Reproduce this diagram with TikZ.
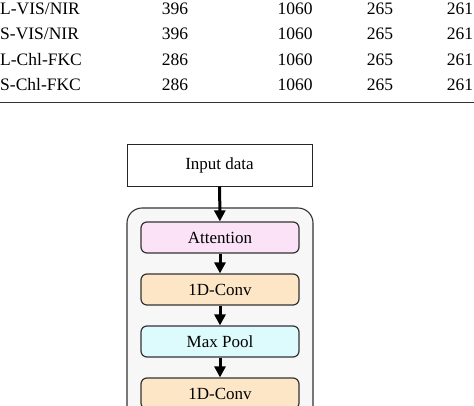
\documentclass[tikz,border=0pt]{standalone}
\usepackage{fontspec}
\setmainfont{Liberation Serif}
\usepackage{xcolor}
\usepackage{tikz}
\usetikzlibrary{arrows.meta,positioning}
\definecolor{pinkx}{HTML}{FBE2F6}
\definecolor{peachx}{HTML}{FDE6C6}
\definecolor{cyanx}{HTML}{DDFBFD}
\definecolor{shellbg}{HTML}{F7F7F7}
\definecolor{edgex}{HTML}{333333}
\tikzset{
  ar/.style={-{Triangle[length=11pt,width=11pt]},line width=3pt,black},
  cell/.style={anchor=base,inner sep=0pt,font=\fontsize{17.5}{20}\selectfont},
  blk/.style={draw=edgex,line width=1.2pt,rounded corners=6pt,minimum width=158pt,minimum height=31pt,inner sep=0pt,font=\fontsize{17}{20}\selectfont},
  inbox/.style={draw=black!85,line width=1pt,fill=white,minimum width=185pt,minimum height=42pt,inner sep=0pt,font=\fontsize{17}{20}\selectfont},
  shell/.style={draw=edgex,line width=1.1pt,fill=shellbg,rounded corners=15pt}
}
\begin{document}
\begin{tikzpicture}[x=1pt,y=-1pt]
\useasboundingbox (0,0) rectangle (474,405);
\clip (0,0) rectangle (474,405);
\fill[white] (0,0) rectangle (474,405);
% table rows
\foreach \nm/\na/\yy [count=\i] in {{L-VIS/NIR}/396/14,{S-VIS/NIR}/396/39.5,{L-Chl-FKC}/286/65,{S-Chl-FKC}/286/90.5}{
  \node[cell,anchor=base west] (r\i a) at (0,\yy) {\nm};
  \node[cell] (r\i b) at (175,\yy) {\na};
  \node[cell] (r\i c) at (295,\yy) {1060};
  \node[cell] (r\i d) at (380,\yy) {265};
  \node[cell] (r\i e) at (460,\yy) {261};
}
\draw[line width=1.8pt,black!80] (0,102.5) -- (474,102.5);
% flow
\draw[shell] (127,208) rectangle (313,440);
\node[inbox] (input) at (219.5,165) {Input data};
\node[blk,fill=pinkx] (attn) at (220,237.5) {Attention};
\node[blk,fill=peachx] (conv1) at (220,289.5) {1D-Conv};
\node[blk,fill=cyanx] (pool) at (220,341.5) {Max Pool};
\node[blk,fill=peachx] (conv2) at (220,393.5) {1D-Conv};
\draw[ar] (input) -- (attn);
\draw[ar] (attn) -- (conv1);
\draw[ar] (conv1) -- (pool);
\draw[ar] (pool) -- (conv2);
\end{tikzpicture}
\end{document}
